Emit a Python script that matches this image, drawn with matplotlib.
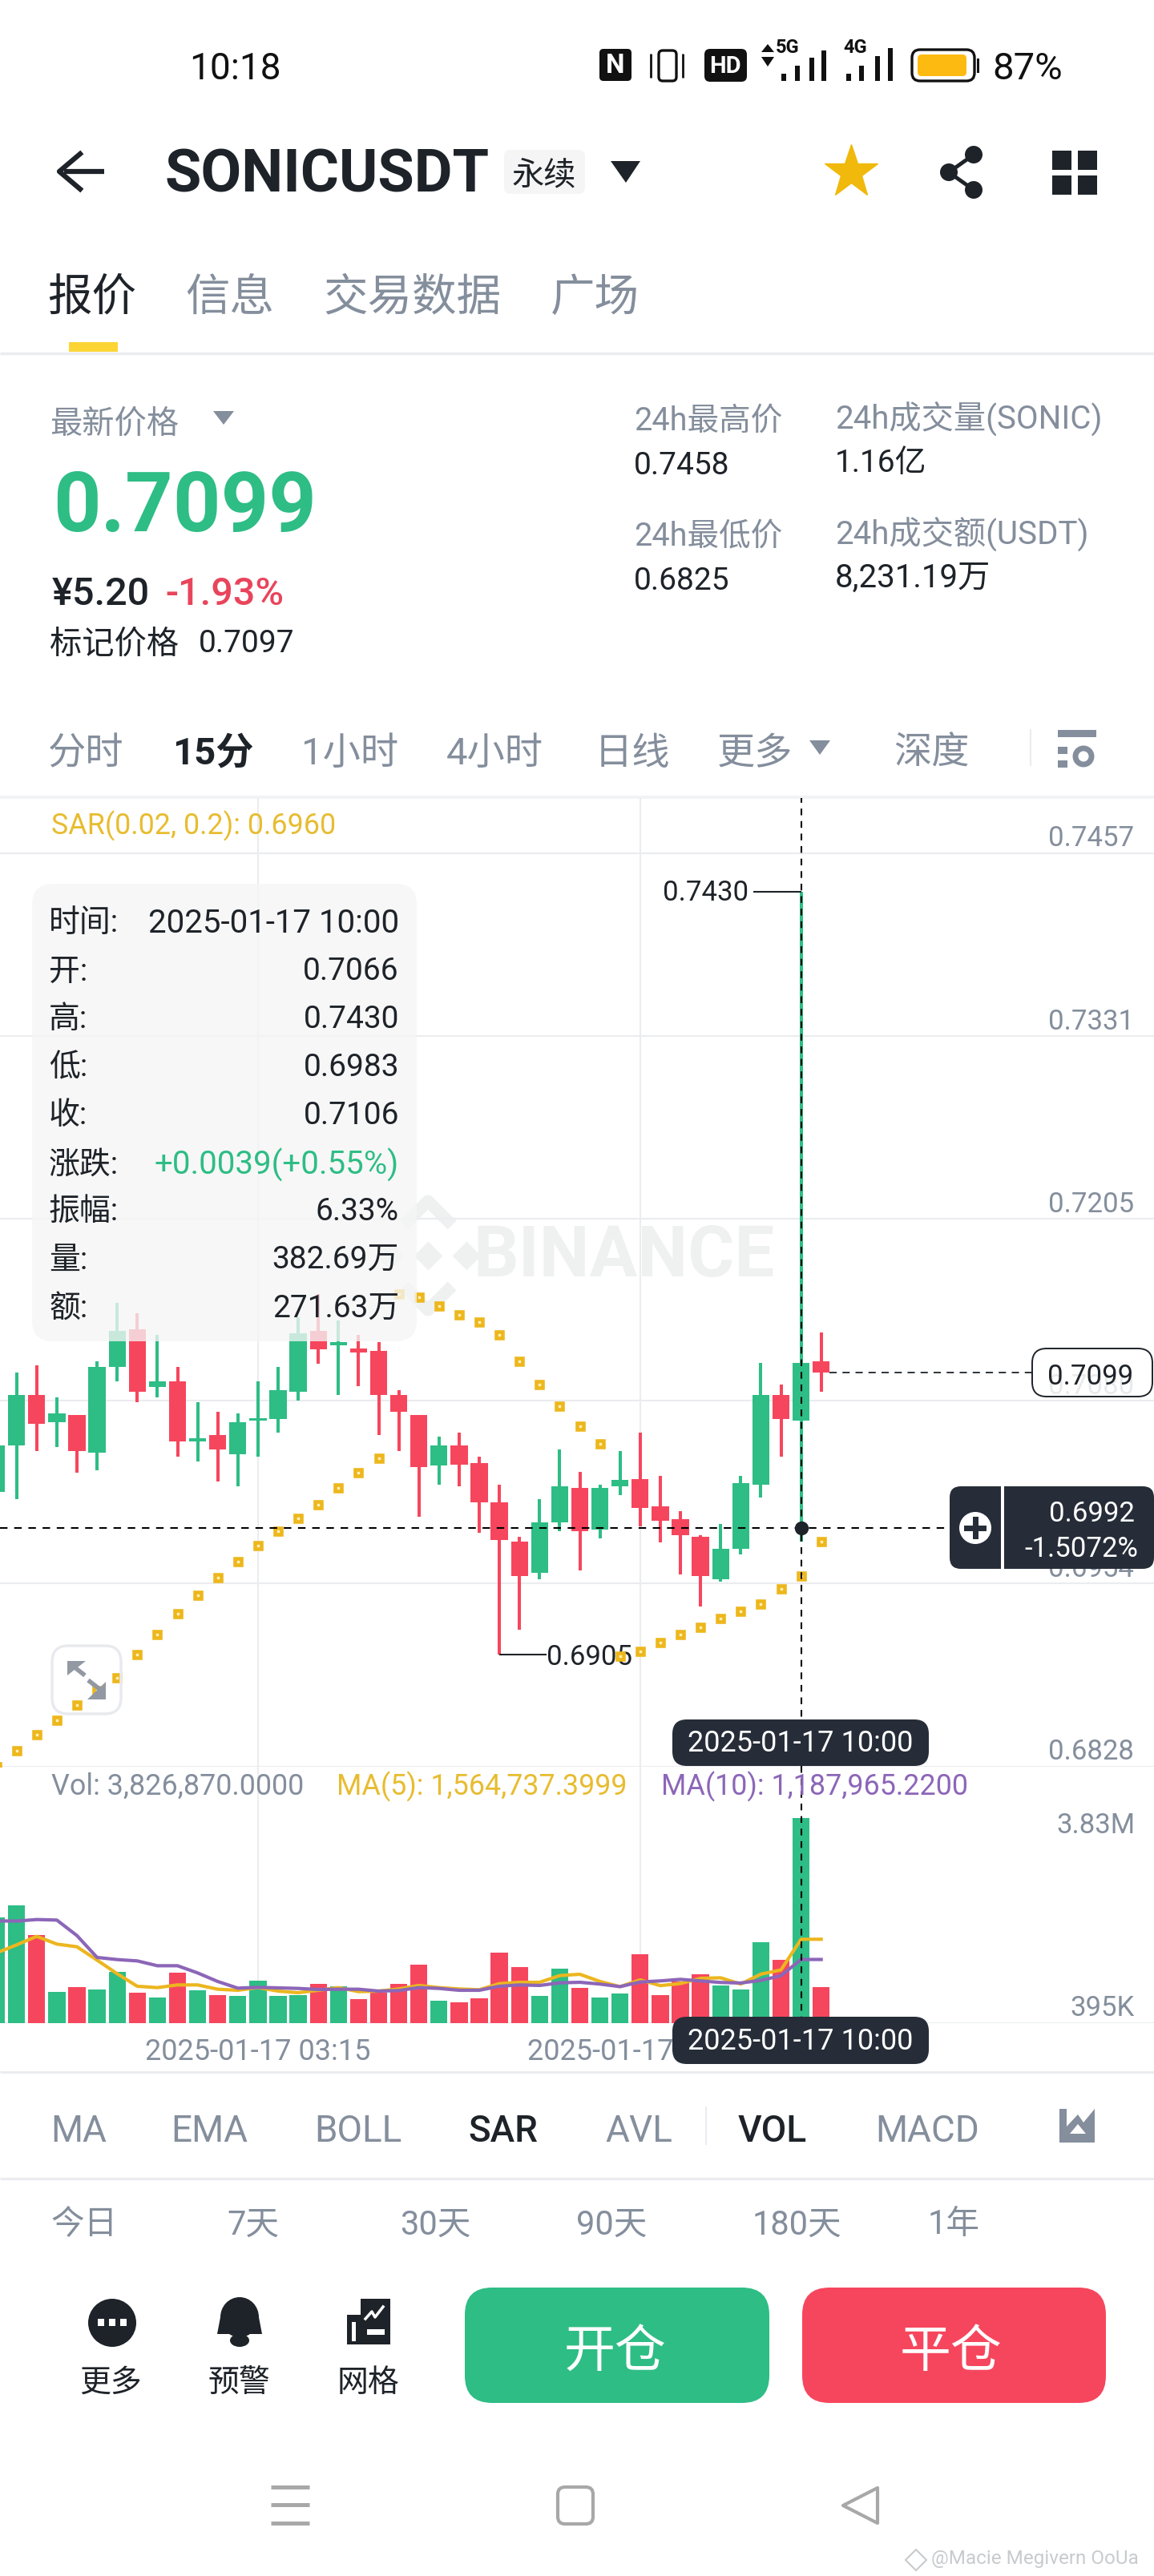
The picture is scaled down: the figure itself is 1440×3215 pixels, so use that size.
import numpy as np
import matplotlib
matplotlib.use("Agg")
import matplotlib.pyplot as plt
from matplotlib.patches import FancyBboxPatch, Rectangle, Circle, Polygon, Ellipse

plt.rcParams['font.family'] = ['Roboto', 'Noto Sans CJK SC', 'DejaVu Sans']

# 15 min candles
opens = [.7017, .7049, .7084, .7065, .7070, .7044, .7103, .7129, .7089, .7093, .7052, .7056, .7043, .7066,
         .7067, .7086, .7128, .7118, .7116, .7114, .7084, .7070, .7035, .7049, .7037, .7010, .6983, .6961,
         .6996, .7020, .6991, .7021, .7026, .7007, .6998, .6986, .6957, .6978, .7022, .7084, .7066, .7107]
closes = [.7049, .7084, .7064, .7071, .7045, .7103, .7128, .7086, .7093, .7052, .7054, .7046, .7065, .7068,
          .7087, .7126, .7115, .7120, .7113, .7084, .7072, .7034, .7049, .7036, .7010, .6984, .6959, .6996,
          .7021, .6990, .7020, .7025, .7006, .6997, .6987, .6959, .6978, .7023, .7084, .7067, .7106, .7099]
highs = [.7049, .7099, .7104, .7082, .7070, .7107, .7147, .7140, .7125, .7103, .7079, .7072, .7071, .7093,
         .7103, .7137, .7153, .7135, .7125, .7120, .7087, .7070, .7055, .7058, .7041, .7022, .6986, .7012,
         .7046, .7031, .7022, .7045, .7058, .7028, .7004, .6987, .6995, .7028, .7106, .7091, .7430, .7127]
lows = [.7017, .7012, .7045, .7048, .7030, .7032, .7093, .7079, .7082, .7041, .7038, .7024, .7021, .7041,
        .7058, .7080, .7105, .7084, .7090, .7056, .7045, .7000, .7022, .7021, .6989, .6905, .6922, .6957,
        .6990, .6963, .6985, .7015, .6993, .6982, .6960, .6938, .6955, .6974, .7013, .7041, .6983, .7086]
sar = [.6828, .6839, .6850, .6860, .6870, .6880, .6889, .6905, .6919, .6933, .6946, .6958, .6969, .6980,
       .6990, .6999, .7008, .7020, .7030, .7040, .7153, .7151, .7145, .7139, .7134, .7125, .7107, .7091,
       .7076, .7062, .7050, .6904, .6907, .6913, .6919, .6924, .6930, .6935, .6940, .6950, .6959, .6983]
volumes = [1973e3, 2198e3, 1644e3, 588e3, 673e3, 628e3, 957e3, 573e3, 478e3, 937e3, 613e3, 528e3, 508e3, 797e3,
           503e3, 528e3, 737e3, 688e3, 448e3, 563e3, 737e3, 1086e3, 419e3, 395e3, 463e3, 1311e3, 1046e3, 508e3,
           1017e3, 663e3, 477e3, 554e3, 1284e3, 525e3, 778e3, 905e3, 710e3, 622e3, 1508e3, 1177e3, 3826870, 671e3]
ma5 = [1311e3, 1460e3, 1619e3, 1475e3, 1425e3, 1176e3, 922e3, 688e3, 663e3, 713e3, 713e3, 633e3, 613e3, 663e3,
       598e3, 568e3, 613e3, 663e3, 588e3, 598e3, 638e3, 703e3, 663e3, 638e3, 623e3, 737e3, 762e3, 762e3,
       887e3, 912e3, 778e3, 681e3, 807e3, 700e3, 739e3, 836e3, 846e3, 729e3, 914e3, 992e3, 1565e3, 1565e3]
ma10 = [1908e3, 1904e3, 1933e3, 1923e3, 1634e3, 1226e3, 1186e3, 1161e3, 1071e3, 1071e3, 937e3, 777e3, 653e3, 668e3,
        658e3, 648e3, 628e3, 633e3, 633e3, 598e3, 608e3, 663e3, 648e3, 613e3, 613e3, 688e3, 713e3, 703e3,
        752e3, 762e3, 729e3, 681e3, 768e3, 788e3, 817e3, 788e3, 759e3, 749e3, 798e3, 885e3, 1188e3, 1188e3]

price_ticks = [.6828, .6954, .7080, .7205, .7331, .7457]
price_labels = ["0.6828", "0.6954", "0.7080", "0.7205", "0.7331", "0.7457"]
time_ticks = [13, 32]
time_labels = ["2025-01-17 03:15", "2025-01-17 08:00"]
vol_ticks = [395000, 3826870]
vol_labels = ["395K", "3.83M"]

last_price = .7099
cross_price = .6992
cross_idx = 40

DARK = '#1E2329'
GRAY = '#848E9C'
GREEN = '#2EBD85'
RED = '#F6465D'
YELLOW = '#F0B90B'
YTEXT = '#E8BC30'
PURPLE = '#8C66B8'
LINE = '#EAECEF'
BOX = '#262D38'

W, H = 1440, 3216
fig = plt.figure(figsize=(W / 100, H / 100), dpi=100, facecolor='white')


def page_axes(z):
    a = fig.add_axes([0, 0, 1, 1], zorder=z)
    a.set_xlim(0, W)
    a.set_ylim(H, 0)
    a.axis('off')
    a.patch.set_alpha(0)
    return a


bg = page_axes(0)
ui = page_axes(5)


def txt(a, x, y, s, size=28, c=DARK, ha='left', w='normal', dy=3, **kw):
    return a.text(x, y + dy, s, fontsize=size, color=c, ha=ha, va='center', fontweight=w, **kw)


def rbox(a, x0, y0, x1, y1, r, fc, ec='none', lw=0, **kw):
    p = FancyBboxPatch((x0 + r, y0 + r), x1 - x0 - 2 * r, y1 - y0 - 2 * r, boxstyle="round,pad=%f,rounding_size=%f" % (r, r),
                       fc=fc, ec=ec, lw=lw, **kw)
    a.add_patch(p)
    return p


def hline(a, x0, x1, y, c=LINE, lw=2.2):
    a.plot([x0, x1], [y, y], color=c, lw=lw, solid_capstyle='butt')


def vline(a, x, y0, y1, c=LINE, lw=1.5):
    a.plot([x, x], [y0, y1], color=c, lw=lw, solid_capstyle='butt')


# status bar
txt(bg, 236, 83, "10:18", 33, '#111111')
rbox(bg, 748, 62, 788, 102, 5, '#111111')
txt(bg, 768, 82, "N", 24, 'white', ha='center', w='bold', dy=0)
rbox(bg, 822, 64, 844, 102, 5, 'white', ec='#111111', lw=2.4)
for dx in [812, 852]:
    vline(bg, dx, 68, 98, '#111111', 2)
rbox(bg, 879, 62, 932, 103, 7, '#111111')
txt(bg, 905, 83, "HD", 21, 'white', ha='center', w='bold', dy=0)
txt(bg, 968, 60, "5G", 17, '#111111', w='bold', dy=0)
txt(bg, 1052, 60, "4G", 17, '#111111', w='bold', dy=0)
bg.add_patch(Polygon([[958, 56], [950, 66], [966, 66]], fc='#111111'))
bg.add_patch(Polygon([[958, 84], [950, 72], [966, 72]], fc='#111111'))
for x0 in [975, 992, 1010, 1025]:
    bg.add_patch(Rectangle((x0, 102 - (x0 - 960) * .58), 6, (x0 - 960) * .58, fc='#111111'))
for x0 in [1056, 1072, 1092, 1108]:
    bg.add_patch(Rectangle((x0, 102 - (x0 - 1042) * .62), 6, (x0 - 1042) * .62, fc='#111111'))
rbox(bg, 1138, 63, 1216, 102, 10, 'white', ec='#111111', lw=2.4)
rbox(bg, 1145, 69, 1206, 96, 5, '#FDBB11')
bg.add_patch(Rectangle((1219, 74), 3, 18, fc='#111111'))
txt(bg, 1238, 83, "87%", 34, '#111111')

# title row
bg.plot([130, 80], [215, 215], color=DARK, lw=4.5, solid_capstyle='butt')
bg.plot([100, 74, 100], [193, 215, 237], color=DARK, lw=4.5)
txt(bg, 205, 216, "SONICUSDT", 53, DARK, w='bold')
rbox(bg, 629, 188, 730, 243, 8, '#F5F5F5')
txt(bg, 679, 216, "永续", 29, DARK, ha='center')
bg.add_patch(Polygon([[762, 202], [799, 202], [781, 229]], fc=DARK))
bg.plot([1062], [216], marker='*', ms=50, color=YELLOW, mec=YELLOW)
for cx, cy in [(1215, 194), (1184, 216), (1215, 238)]:
    bg.add_patch(Ellipse((cx, cy), 22, 22, fc=DARK))
bg.plot([1215, 1184, 1215], [194, 216, 238], color=DARK, lw=3.5)
for x0 in [1313, 1345]:
    for y0 in [189, 220]:
        bg.add_patch(Rectangle((x0, y0), 24, 24, fc=DARK))

# tabs
txt(bg, 59, 369, "报价", 40, DARK, w='medium')
txt(bg, 231, 369, "信息", 40, GRAY)
txt(bg, 403, 369, "交易数据", 40, GRAY)
txt(bg, 687, 369, "广场", 40, GRAY)
bg.add_patch(Rectangle((86, 428), 61, 12, fc='#FCD535'))
hline(bg, 0, W, 442, LINE, 2.5)

# price block
txt(bg, 62, 526, "最新价格", 29, GRAY)
bg.add_patch(Polygon([[266, 514], [292, 514], [279, 531]], fc=GRAY))
txt(bg, 66, 632, "0.7099", 75, GREEN, w='bold')
txt(bg, 65, 739, "¥5.20", 35, DARK, w='medium')
txt(bg, 206, 739, "-1.93%", 35, '#E8455C', w='medium')
txt(bg, 62, 801, "标记价格", 29, DARK)
txt(bg, 248, 801, "0.7097", 28, DARK)
txt(bg, 791, 522, "24h最高价", 28.5, GRAY)
txt(bg, 791, 578, "0.7458", 28, DARK)
txt(bg, 1042, 520, "24h成交量(SONIC)", 29, GRAY)
txt(bg, 1042, 575, "1.16亿", 28, DARK)
txt(bg, 791, 666, "24h最低价", 28.5, GRAY)
txt(bg, 791, 722, "0.6825", 28, DARK)
txt(bg, 1042, 664, "24h成交额(USDT)", 29, GRAY)
txt(bg, 1042, 719, "8,231.19万", 29, DARK)

# interval row
txt(bg, 60, 938, "分时", 34, GRAY)
txt(bg, 215, 938, "15分", 34, DARK, w='bold')
txt(bg, 376, 938, "1小时", 34, GRAY)
txt(bg, 557, 938, "4小时", 34, GRAY)
txt(bg, 742, 938, "日线", 34, GRAY)
txt(bg, 895, 938, "更多", 34, GRAY)
bg.add_patch(Polygon([[1010, 925], [1036, 925], [1023, 943]], fc=GRAY))
txt(bg, 1115, 938, "深度", 34, GRAY)
vline(bg, 1286, 911, 957, LINE, 1.5)
bg.add_patch(Rectangle((1320, 912), 48, 9, fc=GRAY))
bg.add_patch(Rectangle((1320, 933), 12, 9, fc=GRAY))
bg.add_patch(Rectangle((1320, 950), 12, 9, fc=GRAY))
bg.add_patch(Circle((1352, 945), 10, fc='white', ec=GRAY, lw=5))
hline(bg, 0, W, 996, '#F2F3F5', 3)

# watermark
bg.plot([504, 534, 564], [1530, 1500, 1530], color='#EFF1F1', lw=11, solid_capstyle='butt')
bg.plot([504, 534, 564], [1606, 1636, 1606], color='#EFF1F1', lw=11, solid_capstyle='butt')
bg.plot([534, 582, 486], [1568, 1568, 1568], 'D', color='#EFF1F1', ms=17)
txt(bg, 590, 1569, "BINANCE", 64, '#EFF1F1', w='bold', dy=0)

# charts
idx = np.arange(len(opens))
xl = (4.4 / 25.1, (W + 4.4) / 25.1)
per_px = (.7457 - .6828) / 1140.0
top_price = .6828 + (2205.5 - 997) * per_px
colors = [GREEN if c >= o else RED for o, c in zip(opens, closes)]

ax = fig.add_axes([0, 1 - 2205.5 / H, 1, (2205.5 - 997) / H], zorder=2)
ax.patch.set_alpha(0)
ax.set_xlim(*xl)
ax.set_ylim(.6828, top_price)
ax.set_yticks(price_ticks)
ax.set_xticks(time_ticks)
ax.set_xticklabels([])
ax.set_yticklabels([])
ax.tick_params(length=0)
ax.grid(True, color=LINE, lw=1.5)
ax.set_axisbelow(True)
for s in ax.spines.values():
    s.set_visible(False)

ax.vlines(idx, lows, highs, colors=colors, lw=2.9, zorder=3)
ax.bar(idx, np.abs(np.array(closes) - np.array(opens)), bottom=np.minimum(opens, closes), width=.85, color=colors, zorder=3)
ax.plot(idx, sar, 's', ms=5.2, mfc='#FFF0B8', mec='#EDB71C', mew=3.3, zorder=5)

for v, s in zip(price_ticks, price_labels):
    ax.annotate(s, xy=(1, v), xycoords=ax.get_yaxis_transform(), xytext=(-25, 9), textcoords='offset pixels',
                ha='right', va='baseline', fontsize=25, color=GRAY, zorder=2)

# high and low callouts
ax.hlines(.7430, 37.63, cross_idx, color=DARK, lw=1.5, zorder=4)
ax.annotate("0.7430", xy=(37.63, .7430), xytext=(-6, 0), textcoords='offset pixels', ha='right', va='center', fontsize=25, color=DARK)
ax.hlines(.6905, 25, 27.35, color=DARK, lw=1.5, zorder=4)
ax.annotate("0.6905", xy=(27.35, .6905), xytext=(0, -3), textcoords='offset pixels', ha='left', va='center', fontsize=25, color=DARK, zorder=4)

# last price and crosshair
ax.hlines(last_price, 41.4, 51.5, color=DARK, lw=1.3, linestyles=(0, (5, 4)), zorder=4)
ax.axhline(cross_price, color='black', lw=1.5, ls=(0, (4.5, 4)), zorder=6)
ax.axvline(cross_idx, color='black', lw=1.5, ls=(0, (4, 3.5)), zorder=6)
ax.plot([cross_idx], [cross_price], 'o', ms=11.5, color=DARK, zorder=7)

vol = fig.add_axes([0, 1 - 2526.0 / H, 1, (2526 - 2205.5) / H], zorder=2)
vol.patch.set_alpha(0)
vol.set_xlim(*xl)
vol.set_ylim(0, 320.5 * 3826870 / 256.0)
vol.set_yticks([0])
vol.set_yticklabels([])
vol.set_xticks(time_ticks)
vol.set_xticklabels(time_labels, fontsize=26, color=GRAY)
vol.tick_params(axis='x', length=0, pad=12)
vol.tick_params(axis='y', length=0)
vol.grid(True, color=LINE, lw=1.5)
vol.set_axisbelow(True)
for s in vol.spines.values():
    s.set_visible(False)
vol.bar(idx, volumes, width=.85, color=colors, zorder=3)
vol.plot(idx, ma5, color='#ECB61F', lw=3, zorder=4)
vol.plot(idx, ma10, color=PURPLE, lw=3, zorder=5)
vol.axvline(cross_idx, color='black', lw=1.5, ls=(0, (4, 3.5)), zorder=6)
for v, s in zip(vol_ticks, vol_labels):
    vol.annotate(s, xy=(1, v), xycoords=vol.get_yaxis_transform(), xytext=(-24, -9 if v > 1e6 else -7), textcoords='offset pixels',
                 ha='right', va='center', fontsize=25, color=GRAY, zorder=2)

# chart legends
txt(ui, 64, 1030, "SAR(0.02, 0.2): 0.6960", 25.8, YTEXT, dy=1)
txt(ui, 64, 2230, "Vol: 3,826,870.0000", 25.8, GRAY, dy=0)
txt(ui, 420, 2230, "MA(5): 1,564,737.3999", 25.8, YTEXT, dy=0)
txt(ui, 825, 2230, "MA(10): 1,187,965.2200", 25.8, PURPLE, dy=0)

# tooltip
rbox(ui, 40, 1104, 520, 1675, 26, '#F5F5F5', alpha=.78)
rows_y = [1150, 1210, 1270, 1330, 1390, 1451, 1510, 1570, 1631]
row_names = ["时间:", "开:", "高:", "低:", "收:", "涨跌:", "振幅:", "量:", "额:"]
row_vals = ["2025-01-17 10:00", "0.7066", "0.7430", "0.6983", "0.7106", "+0.0039(+0.55%)", "6.33%", "382.69万", "271.63万"]
for y, n, v in zip(rows_y, row_names, row_vals):
    txt(ui, 61, y, n, 28, DARK)
    sz = 29 if v[0] == '+' or v[0:4] == '2025' else 28
    txt(ui, 498, y, v, sz, GREEN if v.startswith('+') else DARK, ha='right')

# expand button
rbox(ui, 65, 2055, 151, 2140, 20, 'none', ec='#E8EAEE', lw=2.5)
ui.plot([88, 106], [2078, 2092], color='#9299A3', lw=4, solid_capstyle='butt')
ui.add_patch(Polygon([[84, 2074], [107, 2074], [84, 2092]], fc='#9299A3'))
ui.plot([110, 128], [2098, 2112], color='#9299A3', lw=4, solid_capstyle='butt')
ui.add_patch(Polygon([[132, 2122], [109, 2122], [132, 2100]], fc='#9299A3'))

# price tags
rbox(ui, 1288, 1684, 1438, 1744, 18, (1, 1, 1, .82), ec=DARK, lw=1.4)
txt(ui, 1414, 1716, "0.7099", 25, DARK, ha='right')
rbox(ui, 1185, 1856, 1440, 1959, 14, BOX)
ui.add_patch(Rectangle((1249, 1856), 4, 103, fc='white'))
ui.add_patch(Circle((1217, 1908), 20, fc='white'))
ui.add_patch(Rectangle((1214, 1894), 7, 28, fc=BOX))
ui.add_patch(Rectangle((1203, 1905), 28, 7, fc=BOX))
txt(ui, 1416, 1887, "0.6992", 25, 'white', ha='right')
txt(ui, 1420, 1931, "-1.5072%", 25, 'white', ha='right')

for y0, y1, yt in [(2147, 2205, 2176), (2518, 2577, 2548)]:
    rbox(ui, 839, y0, 1159, y1, 18, BOX)
    txt(ui, 999, yt, "2025-01-17 10:00", 26, 'white', ha='center', dy=0)

# indicator row
hline(bg, 0, W, 2587, LINE, 2.2)
for x, s, c, wt in [(63, "MA", GRAY, 'normal'), (213, "EMA", GRAY, 'normal'), (392, "BOLL", GRAY, 'normal'),
                    (584, "SAR", DARK, 'medium'), (755, "AVL", GRAY, 'normal'), (921, "VOL", DARK, 'medium'),
                    (1092, "MACD", GRAY, 'normal')]:
    txt(bg, x, 2657, s, 33, c, w=wt)
vline(bg, 881, 2630, 2678, LINE, 1.5)
bg.add_patch(Polygon([[1322, 2633], [1331, 2633], [1331, 2655], [1345, 2640], [1352, 2650], [1366, 2633], [1366, 2675], [1322, 2675]], fc=GRAY))
bg.add_patch(Polygon([[1335, 2664], [1345, 2652], [1355, 2664]], fc='white'))
hline(bg, 0, W, 2720, LINE, 2.2)

# range row
for x, s in [(64, "今日"), (283, "7天"), (499, "30天"), (719, "90天"), (939, "180天"), (1158, "1年")]:
    txt(bg, x, 2774, s, 30, GRAY)

# bottom buttons
rbox(bg, 580, 2856, 960, 3000, 34, GREEN)
rbox(bg, 1001, 2856, 1380, 3000, 34, RED)
txt(bg, 768, 2933, "开仓", 46, 'white', ha='center', w='medium')
txt(bg, 1187, 2933, "平仓", 46, 'white', ha='center', w='medium')
for x, s in [(138, "更多"), (298, "预警"), (459, "网格")]:
    txt(bg, x, 2971, s, 28, DARK, ha='center')
bg.add_patch(Circle((140, 2900), 30, fc=DARK))
for dx in [-14, 0, 14]:
    bg.add_patch(Rectangle((140 + dx - 4, 2895), 8, 9, fc='white'))
bg.add_patch(Ellipse((299, 2893), 48, 50, fc=DARK))
bg.add_patch(Polygon([[275, 2893], [323, 2893], [327, 2914], [271, 2914]], fc=DARK))
bg.add_patch(Ellipse((299, 2922), 24, 16, fc=DARK))
bg.add_patch(Rectangle((450, 2870), 37, 57, fc=DARK))
bg.add_patch(Rectangle((433, 2890), 17, 37, fc=DARK))
bg.add_patch(Rectangle((439, 2899), 5, 24, fc='white'))
bg.add_patch(Rectangle((458, 2908), 22, 7, fc='white'))
bg.plot([456, 464, 468, 478], [2895, 2886, 2893, 2880], color='white', lw=2.5)

# nav bar
for y in [3105, 3127, 3150]:
    hline(bg, 338, 386, y, '#A8A8A8', 3.6)
rbox(bg, 696, 3105, 740, 3151, 9, 'white', ec='#A8A8A8', lw=3)
bg.add_patch(Polygon([[1095, 3106], [1095, 3150], [1052, 3128]], fc='white', ec='#A8A8A8', lw=3, joinstyle='round'))
txt(bg, 1162, 3194, "@Macie Megivern OoUa", 17.5, '#C8CBCE', dy=0)
bg.plot([1143], [3196], marker='D', ms=13, mfc='white', mec='#C8CBCE', mew=1.5)

fig.savefig("out.png", dpi=100, facecolor='white')
